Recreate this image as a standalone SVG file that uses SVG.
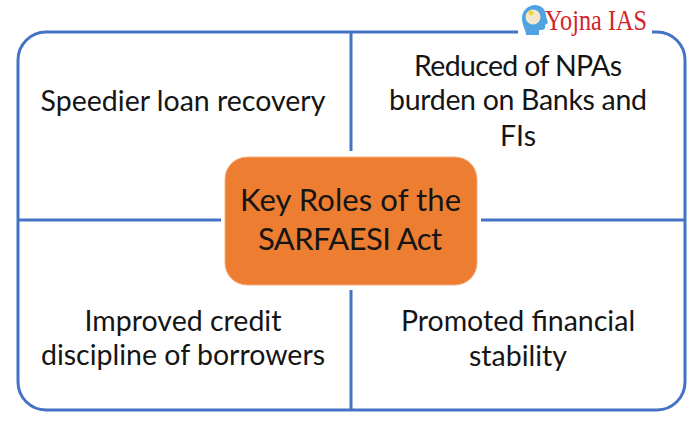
<svg xmlns="http://www.w3.org/2000/svg" width="700" height="431" viewBox="0 0 700 431">
<style>
text{font-family:"Lato","Liberation Sans",sans-serif;fill:#151515;text-anchor:middle}
.t{font-size:28.5px}
.c{font-size:31px}
.l{fill:none;stroke:#4472c4;stroke-width:3}
</style>
<rect width="700" height="431" fill="#fff"/>
<g id="connectors">
<path class="l" d="M518 32H46A28 28 0 0 0 18 60V382A28 28 0 0 0 46 410H657A28 28 0 0 0 685 382V60A28 28 0 0 0 657 32H652"/>
<path class="l" d="M351 32V151M351 290V410M18 220H221M481 220H685"/>
</g>
<g id="center">
<rect x="225" y="157" width="252" height="128" rx="22" fill="#ed7d31" stroke="#f4b183" stroke-width="1"/>
<text class="c" x="350.500" y="211" textLength="221">Key Roles of the</text>
<text class="c" x="350" y="250" textLength="184">SARFAESI Act</text>
</g>
<g id="q1"><text class="t" x="183" y="111">Speedier loan recovery</text></g>
<g id="q2">
<text class="t" x="518" y="76" textLength="208">Reduced of NPAs</text>
<text class="t" x="518" y="110" textLength="258">burden on Banks and</text>
<text class="t" x="518" y="146">FIs</text>
</g>
<g id="q3">
<text class="t" x="183" y="331">Improved credit</text>
<text class="t" x="183" y="365">discipline of borrowers</text>
</g>
<g id="q4">
<text class="t" x="518" y="331">Promoted financial</text>
<text class="t" x="518" y="366">stability</text>
</g>
<g id="logo">
<path d="M526 35C526 30 522 26 522 18C522 10 529 5 535 5C542 5 546 10 546 16L548 23L545 25C546 30 543 30 539 30L539 35Z" fill="#4fa3e0"/>
<circle cx="533" cy="17" r="7.500" fill="#f3e8cc"/>
<circle cx="531" cy="13" r="2.500" fill="#f2d43a"/>
<text x="596" y="30" textLength="102" lengthAdjust="spacingAndGlyphs" style="font-family:'Liberation Serif',serif;font-size:29px;fill:#d2232a">Yojna IAS</text>
</g>
</svg>
